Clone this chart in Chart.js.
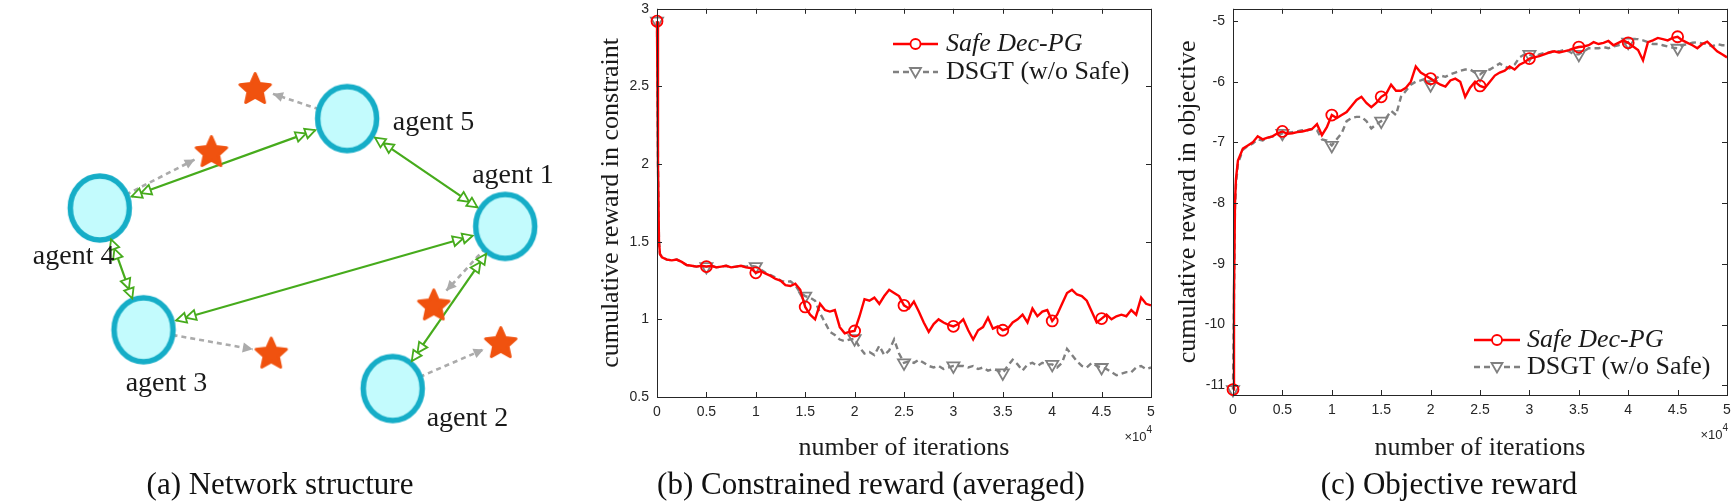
<!DOCTYPE html>
<html>
<head>
<meta charset="utf-8">
<title>Safe Dec-PG</title>
<script src="https://cdn.jsdelivr.net/npm/chart.js@4.4.1/dist/chart.umd.min.js"></script>
<style>
  html, body { margin: 0; background: #ffffff; }
  body { position: relative; width: 1736px; height: 501px; overflow: hidden; }
  .panel { position: absolute; top: 0; }
  .caption {
    position: absolute; top: 466px; height: 36px; line-height: 36px;
    font-family: "Liberation Serif", "Times New Roman", serif; font-size: 31px;
    color: #111; white-space: nowrap; transform: translateX(-50%);
  }
</style>
</head>
<body>
<canvas id="network" class="panel" width="580" height="501" style="left:0"></canvas>
<canvas id="constraint" class="panel" width="610" height="470" style="left:560px"></canvas>
<canvas id="objective" class="panel" width="576" height="470" style="left:1160px"></canvas>
<div class="caption" style="left:280px">(a) Network structure</div>
<div class="caption" style="left:871px">(b) Constrained reward (averaged)</div>
<div class="caption" style="left:1449px">(c) Objective reward</div>
<script>
const SERIF = '"Liberation Serif", "Times New Roman", serif';
const SANS = '"Liberation Sans", Arial, Helvetica, sans-serif';
const INK = '#262626';
const GREEN = '#46ab1c';

// ---- (a) network layout ----
const agentNames = ['agent 1', 'agent 2', 'agent 3', 'agent 4', 'agent 5'];
const agentX = [531, 405, 126, 77, 354];
const agentY = [223, 408, 341, 202, 100];
const agentLabelX = [494, 443, 106, 2, 405];
const agentLabelY = [165, 442, 403, 258, 105];
const targetX = [451, 526, 269, 202, 251];
const targetY = [312, 355, 367, 137, 65];
const commLinks = [[4, 5], [5, 1], [1, 3], [4, 3], [1, 2]];

// ---- (b), (c) curves, x in units of 1e4 iterations ----
const iterations = [0, 0.01, 0.02, 0.03,
  0.05, 0.1, 0.15, 0.2, 0.25, 0.3, 0.35, 0.4, 0.45, 0.5,
  0.55, 0.6, 0.65, 0.7, 0.75, 0.8, 0.85, 0.9, 0.95, 1,
  1.05, 1.1, 1.15, 1.2, 1.25, 1.3, 1.35, 1.4, 1.45, 1.5,
  1.55, 1.6, 1.65, 1.7, 1.75, 1.8, 1.85, 1.9, 1.95, 2,
  2.05, 2.1, 2.15, 2.2, 2.25, 2.3, 2.35, 2.4, 2.45, 2.5,
  2.55, 2.6, 2.65, 2.7, 2.75, 2.8, 2.85, 2.9, 2.95, 3,
  3.05, 3.1, 3.15, 3.2, 3.25, 3.3, 3.35, 3.4, 3.45, 3.5,
  3.55, 3.6, 3.65, 3.7, 3.75, 3.8, 3.85, 3.9, 3.95, 4,
  4.05, 4.1, 4.15, 4.2, 4.25, 4.3, 4.35, 4.4, 4.45, 4.5,
  4.55, 4.6, 4.65, 4.7, 4.75, 4.8, 4.85, 4.9, 4.95, 5];
const xTicks = [0, 0.5, 1, 1.5, 2, 2.5, 3, 3.5, 4, 4.5, 5];
const markerAt = [0, 0.5, 1, 1.5, 2, 2.5, 3, 3.5, 4, 4.5];

const constraintSafe = [2.92, 2.0, 1.5, 1.42,
  1.40, 1.385, 1.38, 1.385, 1.37, 1.35, 1.345, 1.34, 1.345, 1.34,
  1.345, 1.335, 1.34, 1.345, 1.335, 1.34, 1.345, 1.335, 1.33, 1.30,
  1.31, 1.295, 1.28, 1.26, 1.25, 1.22, 1.215, 1.23, 1.19, 1.08,
  1.03, 1.00, 1.10, 1.06, 1.05, 1.06, 0.95, 0.91, 0.92, 0.925,
  1.02, 1.13, 1.12, 1.14, 1.10, 1.15, 1.19, 1.17, 1.15, 1.09,
  1.07, 1.115, 1.05, 0.98, 0.92, 0.97, 1.00, 0.98, 0.965, 0.955,
  0.97, 1.00, 0.93, 0.87, 0.93, 0.95, 1.01, 0.94, 0.955, 0.93,
  0.94, 0.98, 1.00, 1.03, 0.98, 1.07, 1.02, 1.05, 1.06, 0.99,
  1.03, 1.10, 1.17, 1.19, 1.16, 1.15, 1.12, 1.05, 0.98, 1.005,
  1.03, 1.00, 1.02, 1.03, 1.02, 1.06, 1.03, 1.14, 1.10, 1.09];
const constraintDsgt = [2.92, 2.0, 1.5, 1.42,
  1.40, 1.385, 1.38, 1.385, 1.37, 1.35, 1.345, 1.34, 1.345, 1.34,
  1.345, 1.335, 1.34, 1.345, 1.335, 1.34, 1.345, 1.34, 1.345, 1.34,
  1.32, 1.30, 1.285, 1.27, 1.25, 1.24, 1.245, 1.22, 1.17, 1.15,
  1.14, 1.12, 1.04, 0.98, 0.92, 0.90, 0.87, 0.86, 0.87, 0.875,
  0.82, 0.78, 0.79, 0.77, 0.83, 0.77, 0.80, 0.87, 0.78, 0.72,
  0.73, 0.72, 0.74, 0.72, 0.70, 0.69, 0.70, 0.68, 0.69, 0.70,
  0.70, 0.70, 0.69, 0.70, 0.68, 0.69, 0.67, 0.68, 0.67, 0.655,
  0.70, 0.74, 0.71, 0.67, 0.71, 0.72, 0.70, 0.72, 0.71, 0.71,
  0.69, 0.72, 0.81, 0.77, 0.73, 0.70, 0.69, 0.72, 0.70, 0.69,
  0.68, 0.66, 0.64, 0.65, 0.66, 0.66, 0.69, 0.70, 0.68, 0.69];
const constraintTicks = [0.5, 1, 1.5, 2, 2.5, 3];

const objectiveSafe = [-11.07, -9.5, -8.0, -7.6,
  -7.3, -7.1, -7.05, -7.0, -6.9, -6.95, -6.92, -6.9, -6.85, -6.82,
  -6.86, -6.85, -6.83, -6.82, -6.8, -6.78, -6.7, -6.88, -6.75, -6.55,
  -6.6, -6.55, -6.5, -6.4, -6.3, -6.25, -6.35, -6.42, -6.35, -6.25,
  -6.2, -6.05, -6.15, -6.15, -6.1, -6.0, -5.75, -5.85, -5.9, -5.95,
  -6.0, -6.05, -6.08, -5.98, -5.95, -6.0, -6.25, -6.1, -6.0, -6.07,
  -6.1, -6.0, -5.9, -5.85, -5.82, -5.75, -5.8, -5.72, -5.68, -5.62,
  -5.6, -5.58, -5.55, -5.52, -5.5, -5.52, -5.5, -5.48, -5.45, -5.43,
  -5.42, -5.4, -5.35, -5.38, -5.36, -5.33, -5.4, -5.36, -5.32, -5.36,
  -5.42, -5.48, -5.65, -5.35, -5.32, -5.28, -5.3, -5.32, -5.28, -5.26,
  -5.32, -5.36, -5.4, -5.45, -5.38, -5.34, -5.42, -5.5, -5.55, -5.6];
const objectiveDsgt = [-11.07, -9.6, -8.1, -7.7,
  -7.35, -7.12, -7.06, -7.02, -6.95, -6.97, -6.93, -6.9, -6.88, -6.85,
  -6.84, -6.83, -6.82, -6.8, -6.8, -6.78, -6.8, -6.95, -6.97, -7.05,
  -6.95, -6.85, -6.65, -6.6, -6.58, -6.58, -6.65, -6.77, -6.7, -6.65,
  -6.6, -6.48, -6.55, -6.25, -6.15, -6.05, -6.0, -5.98, -5.95, -6.05,
  -5.95, -5.9, -5.92, -5.88, -5.85, -5.82, -5.8, -5.8, -5.85, -5.88,
  -5.82, -5.8, -5.75, -5.7, -5.75, -5.78, -5.72, -5.6, -5.55, -5.55,
  -5.6, -5.55, -5.53, -5.52, -5.5, -5.5, -5.48, -5.5, -5.55, -5.55,
  -5.5, -5.45, -5.45, -5.45, -5.43, -5.45, -5.42, -5.4, -5.38, -5.35,
  -5.3, -5.3, -5.32, -5.35, -5.38, -5.38, -5.4, -5.42, -5.44, -5.45,
  -5.4, -5.38, -5.36, -5.35, -5.37, -5.38, -5.42, -5.38, -5.4, -5.4];
const objectiveTicks = [-11, -10, -9, -8, -7, -6, -5];

// ---------- panel (a) ----------
function nodeImage() {
  const c = document.createElement('canvas');
  c.width = 72; c.height = 76;
  const g = c.getContext('2d');
  g.beginPath();
  g.ellipse(36, 38, 29.5, 32, 0, 0, Math.PI * 2);
  g.fillStyle = '#c3fbfd';
  g.fill();
  g.lineWidth = 5.5;
  g.strokeStyle = '#15adc7';
  g.stroke();
  return c;
}

function starImage(R) {
  const s = Math.ceil(2 * R + 8);
  const c = document.createElement('canvas');
  c.width = s; c.height = s;
  const g = c.getContext('2d');
  g.translate(s / 2, s / 2 + R * 0.1);
  g.beginPath();
  for (let k = 0; k < 10; k++) {
    const r = k % 2 ? R * 0.47 : R;
    const a = -Math.PI / 2 + k * Math.PI / 5;
    g.lineTo(r * Math.cos(a), r * Math.sin(a));
  }
  g.closePath();
  g.fillStyle = '#f0520f';
  g.strokeStyle = '#f0520f';
  g.lineJoin = 'round';
  g.lineWidth = 3;
  g.fill();
  g.stroke();
  return c;
}

// shorten a segment so it stops short of the shapes at both ends
function trim(ax, ay, bx, by, da, db) {
  const dx = bx - ax, dy = by - ay, L = Math.hypot(dx, dy);
  return [
    {x: ax + dx * da / L, y: ay + dy * da / L},
    {x: bx - dx * db / L, y: by - dy * db / L}
  ];
}

function head(ctx, x, y, ang, back, len, half, fill, stroke) {
  const tx = x - Math.cos(ang) * back, ty = y - Math.sin(ang) * back;
  const bx = tx - Math.cos(ang) * len, by = ty - Math.sin(ang) * len;
  const nx = -Math.sin(ang) * half, ny = Math.cos(ang) * half;
  ctx.beginPath();
  ctx.moveTo(tx, ty);
  ctx.lineTo(bx + nx, by + ny);
  ctx.lineTo(bx - nx, by - ny);
  ctx.closePath();
  ctx.fillStyle = fill;
  ctx.fill();
  if (stroke) {
    ctx.strokeStyle = stroke;
    ctx.lineWidth = 1.8;
    ctx.stroke();
  }
}

const arrowHeads = {
  id: 'arrowHeads',
  afterDatasetsDraw(chart) {
    const ctx = chart.ctx;
    ctx.save();
    ctx.setLineDash([]);
    chart.data.datasets.forEach((ds, i) => {
      if (!ds.arrow) return;
      const p = chart.getDatasetMeta(i).data;
      const ends = ds.arrow === 'both' ? [[p[1], p[0]], [p[0], p[1]]] : [[p[0], p[1]]];
      ends.forEach(([from, to]) => {
        const ang = Math.atan2(to.y - from.y, to.x - from.x);
        if (ds.arrow === 'both') {
          head(ctx, to.x, to.y, ang, 10, 10, 5, '#ffffff', GREEN);
          head(ctx, to.x, to.y, ang, 0, 10, 5, '#ffffff', GREEN);
        } else {
          head(ctx, to.x, to.y, ang, 0, 10, 5, '#ababab', null);
        }
      });
    });
    ctx.restore();
  }
};

const agentText = {
  id: 'agentText',
  afterDraw(chart) {
    const {ctx, scales: {x, y}} = chart;
    ctx.save();
    ctx.font = '28px ' + SERIF;
    ctx.fillStyle = '#1a1a1a';
    ctx.textBaseline = 'middle';
    ctx.textAlign = 'left';
    agentNames.forEach((name, i) => {
      ctx.fillText(name, x.getPixelForValue(agentLabelX[i]), y.getPixelForValue(agentLabelY[i]));
    });
    ctx.restore();
  }
};

const linkSets = commLinks.map(([a, b]) => ({
  data: trim(agentX[a - 1], agentY[a - 1], agentX[b - 1], agentY[b - 1], 38, 38),
  showLine: true, borderColor: GREEN, borderWidth: 2.2, pointRadius: 0, arrow: 'both', clip: false
}));
const pointerSets = agentNames.map((_, i) => ({
  data: trim(agentX[i], agentY[i], targetX[i], targetY[i], 33, 21),
  showLine: true, borderColor: '#ababab', borderWidth: 2.6, borderDash: [5, 4],
  pointRadius: 0, arrow: 'end', clip: false
}));

new Chart(document.getElementById('network'), {
  type: 'scatter',
  data: {
    datasets: [
      {
        data: agentX.map((x, i) => ({x, y: agentY[i]})),
        pointStyle: nodeImage(), pointRadius: 30, clip: false
      },
      {
        data: targetX.map((x, i) => ({x, y: targetY[i]})),
        pointStyle: starImage(16), pointRadius: 16, clip: false
      },
      ...linkSets,
      ...pointerSets
    ]
  },
  options: {
    responsive: false,
    animation: false,
    events: [],
    layout: {padding: 0},
    plugins: {legend: {display: false}, tooltip: {enabled: false}},
    scales: {
      x: {display: false, min: 0, max: 580},
      y: {display: false, min: 0, max: 501, reverse: true}
    }
  },
  plugins: [arrowHeads, agentText]
});

// ---------- panels (b), (c) ----------
const matlabAxes = {
  id: 'matlabAxes',
  afterDatasetsDraw(chart) {
    const {ctx, chartArea: a, scales: {x, y}} = chart;
    const L = 5;
    ctx.save();
    ctx.strokeStyle = INK;
    ctx.lineWidth = 1;
    ctx.setLineDash([]);
    ctx.strokeRect(Math.round(a.left) + 0.5, Math.round(a.top) + 0.5,
      Math.round(a.right - a.left), Math.round(a.bottom - a.top));
    ctx.beginPath();
    x.ticks.forEach(t => {
      const px = Math.round(x.getPixelForValue(t.value)) + 0.5;
      ctx.moveTo(px, a.bottom); ctx.lineTo(px, a.bottom - L);
      ctx.moveTo(px, a.top); ctx.lineTo(px, a.top + L);
    });
    y.ticks.forEach(t => {
      const py = Math.round(y.getPixelForValue(t.value)) + 0.5;
      ctx.moveTo(a.left, py); ctx.lineTo(a.left + L, py);
      ctx.moveTo(a.right, py); ctx.lineTo(a.right - L, py);
    });
    ctx.stroke();
    // x10^4 exponent under the right end of the x axis
    const R = a.right + 1;
    const ey = a.bottom + 40;
    ctx.fillStyle = INK;
    ctx.textAlign = 'right';
    ctx.textBaseline = 'middle';
    ctx.font = '10px ' + SANS;
    const w4 = ctx.measureText('4').width;
    ctx.fillText('4', R, ey - 7);
    ctx.font = '13px ' + SANS;
    ctx.fillText('\u00d710', R - w4, ey);
    ctx.restore();
  }
};

const lineLegend = {
  id: 'lineLegend',
  afterDraw(chart, args, opts) {
    const ctx = chart.ctx;
    ctx.save();
    chart.data.datasets.forEach((ds, i) => {
      const y = opts.y + i * opts.gap;
      const mx = opts.x + opts.len / 2;
      ctx.strokeStyle = ds.borderColor;
      ctx.lineWidth = ds.borderWidth;
      ctx.setLineDash(ds.borderDash || []);
      ctx.beginPath();
      ctx.moveTo(opts.x, y);
      ctx.lineTo(opts.x + opts.len, y);
      ctx.stroke();
      ctx.setLineDash([]);
      ctx.lineWidth = ds.pointBorderWidth;
      ctx.beginPath();
      if (ds.pointStyle === 'circle') {
        ctx.arc(mx, y, 5, 0, Math.PI * 2);
      } else {
        ctx.moveTo(mx, y + 5.5);
        ctx.lineTo(mx - 5.5, y - 4);
        ctx.lineTo(mx + 5.5, y - 4);
        ctx.closePath();
      }
      ctx.fillStyle = '#ffffff';
      ctx.fill();
      ctx.stroke();
      ctx.fillStyle = '#1a1a1a';
      ctx.font = (ds.italic ? 'italic ' : '') + '26px ' + SERIF;
      ctx.textAlign = 'left';
      ctx.textBaseline = 'middle';
      ctx.fillText(ds.label, opts.textX, y);
    });
    ctx.restore();
  }
};

function series(label, values, safe) {
  const color = safe ? '#ff0000' : '#808080';
  return {
    label,
    data: iterations.map((x, i) => ({x, y: values[i]})),
    borderColor: color,
    borderWidth: 2.4,
    borderDash: safe ? [] : [6, 4],
    pointStyle: safe ? 'circle' : 'triangle',
    pointRotation: safe ? 0 : 180,
    pointRadius: ctx => (ctx.raw && markerAt.includes(ctx.raw.x)) ? (safe ? 5.5 : 7) : 0,
    pointBorderColor: color,
    pointBorderWidth: 1.8,
    pointBackgroundColor: 'rgba(255,255,255,0)',
    italic: safe,
    tension: 0,
    clip: false
  };
}

function lineChart(id, safeVals, dsgtVals, cfg) {
  return new Chart(document.getElementById(id), {
    type: 'line',
    data: {
      datasets: [
        series('Safe Dec-PG', safeVals, true),
        series('DSGT (w/o Safe)', dsgtVals, false)
      ]
    },
    options: {
      responsive: false,
      animation: false,
      events: [],
      layout: {padding: {top: cfg.top, right: cfg.right, bottom: 0, left: 0}},
      plugins: {
        legend: {display: false},
        tooltip: {enabled: false},
        lineLegend: cfg.legend
      },
      scales: {
        x: {
          type: 'linear', min: 0, max: 5,
          afterBuildTicks: s => { s.ticks = xTicks.map(value => ({value})); },
          afterFit: s => { s.height = cfg.xHeight; s.paddingLeft = 0; s.paddingRight = 0; },
          grid: {display: false, drawTicks: false},
          border: {display: false},
          ticks: {
            padding: cfg.xTickPad, color: INK, font: {family: SANS, size: 14},
            maxRotation: 0, autoSkip: false, callback: v => String(v)
          },
          title: {
            display: true, text: 'number of iterations', color: '#1a1a1a',
            font: {family: SERIF, size: 26}, padding: {top: 0, bottom: 6}
          }
        },
        y: {
          type: 'linear', min: cfg.yMin, max: cfg.yMax,
          afterBuildTicks: s => { s.ticks = cfg.yTicks.map(value => ({value})); },
          afterFit: s => { s.width = cfg.yWidth; s.paddingTop = 0; s.paddingBottom = 0; },
          grid: {display: false, drawTicks: false},
          border: {display: false},
          ticks: {padding: 8, color: INK, font: {family: SANS, size: 14}, callback: v => String(v)},
          title: {
            display: true, text: cfg.yTitle, color: '#1a1a1a',
            font: {family: SERIF, size: 26}, padding: {top: cfg.yTitlePad, bottom: 0}
          }
        }
      }
    },
    plugins: [matlabAxes, lineLegend]
  });
}

lineChart('constraint', constraintSafe, constraintDsgt, {
  top: 6, right: 19, xHeight: 73, yWidth: 97, yTitlePad: 35.4, xTickPad: 7,
  yMin: 0.5, yMax: 3, yTicks: constraintTicks,
  yTitle: 'cumulative reward in constraint',
  legend: {x: 333, len: 45, textX: 386, y: 44, gap: 28}
});

lineChart('objective', objectiveSafe, objectiveDsgt, {
  top: 3, right: 9, xHeight: 75, yWidth: 73, yTitlePad: 12.4, xTickPad: 6.6,
  yMin: -11.16, yMax: -4.8, yTicks: objectiveTicks,
  yTitle: 'cumulative reward in objective',
  legend: {x: 314, len: 46, textX: 367, y: 340, gap: 27}
});
</script>
</body>
</html>
